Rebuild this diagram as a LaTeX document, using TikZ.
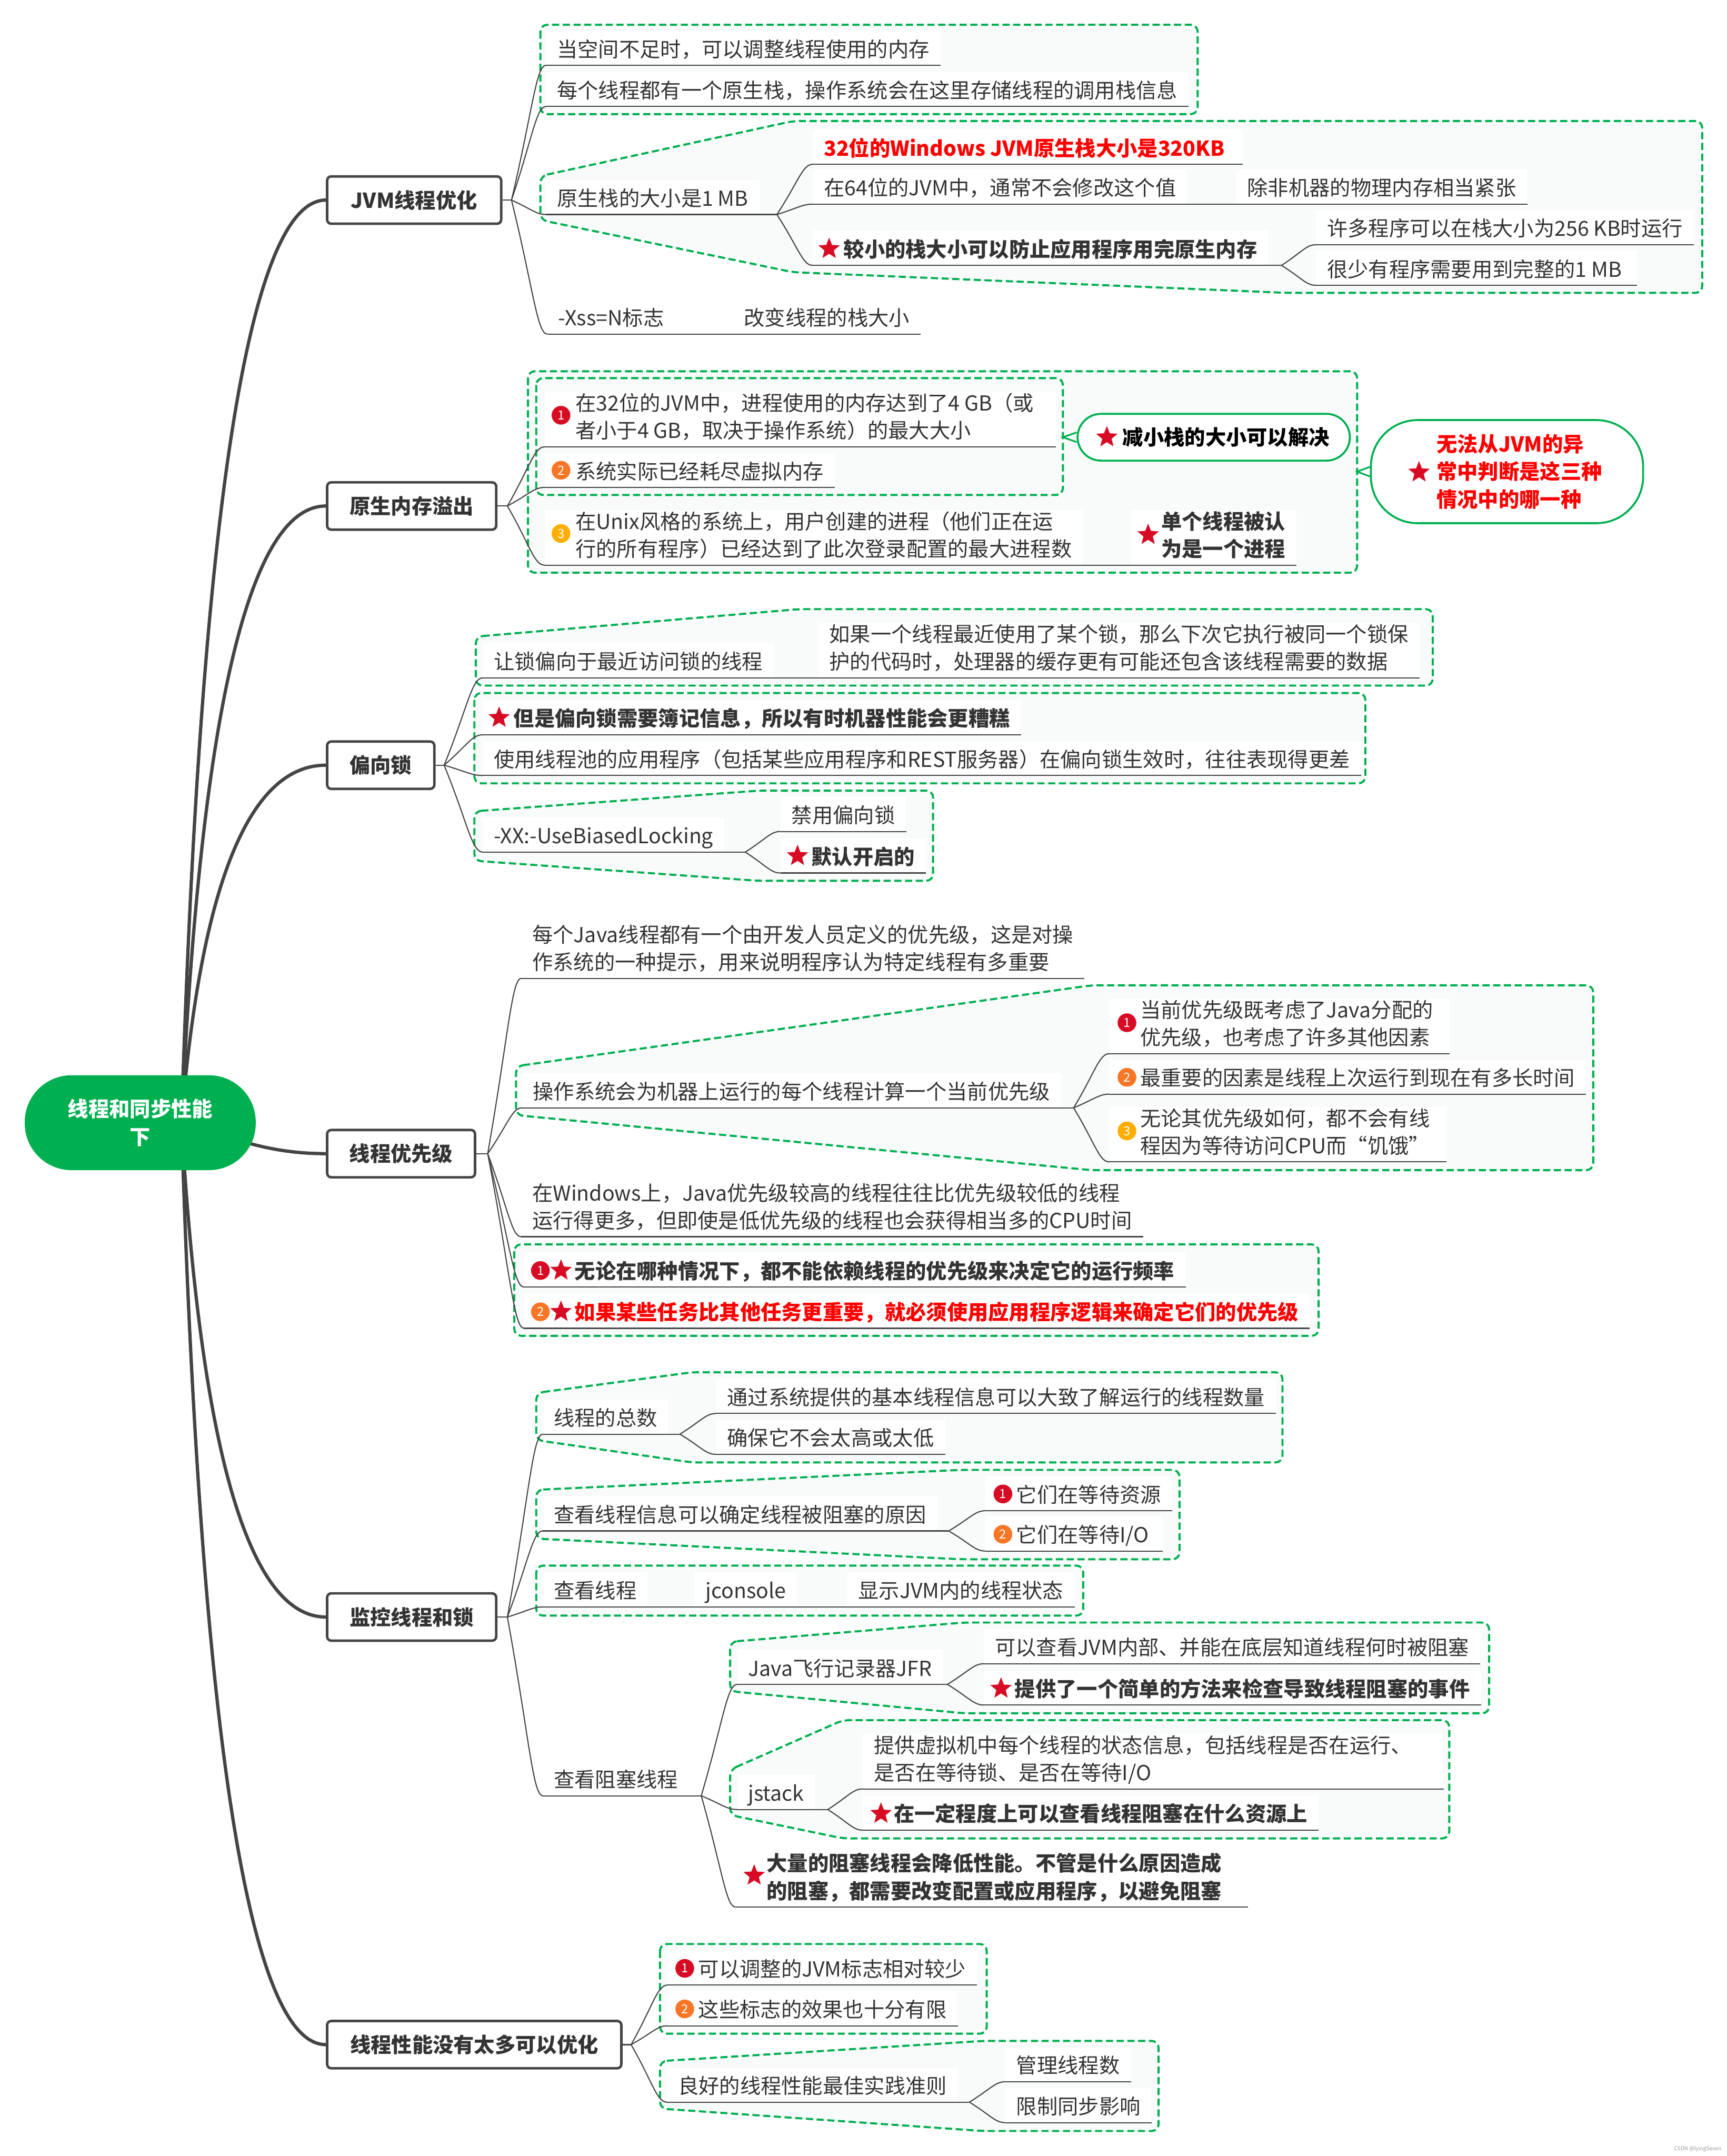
\documentclass[tikz,border=0pt]{standalone}
\usepackage{fontspec}
\setmainfont{Noto Sans CJK SC}
\usetikzlibrary{calc,shapes.geometric}
\definecolor{ink}{HTML}{333333}
\definecolor{stem}{HTML}{444444}
\definecolor{leafgreen}{HTML}{00AF50}
\definecolor{groupfill}{HTML}{F8FBF9}
\definecolor{alert}{HTML}{FF0000}
\definecolor{starred}{HTML}{D80B24}
\definecolor{badgeorange}{HTML}{F97626}
\definecolor{badgeyellow}{HTML}{FFAE00}
\newcommand{\leaffont}{\fontsize{21.4}{28.45}\selectfont}
\newcommand{\hotfont}{\fontsize{21.4}{28.45}\selectfont\bfseries}
\newcommand{\iconpad}{\hspace*{0.72cm}}
\tikzset{
  wire/.style={draw=stem,line width=0.04cm},
  bough/.style={draw=stem,line width=0.12cm},
  twig/.style={to path={let \p1=(\tikztostart),\p2=(\tikztotarget) in .. controls (\x1+0.6*\x2-0.6*\x1,\y1+0.65*\y2-0.65*\y1) and (\x1+0.72*\x2-0.72*\x1,\y2) .. (\x2,\y2)}},
  limb/.style={to path={let \p1=(\tikztostart),\p2=(\tikztotarget) in .. controls (\x1+0.1*\x2-0.1*\x1,\y1+0.5*\y2-0.5*\y1) and (\x1+0.35*\x2-0.35*\x1,\y2) .. (\x2,\y2)}},
  group/.style={draw=leafgreen,fill=groupfill,line width=0.075cm,dash pattern=on 0.26cm off 0.13cm,rounded corners=0.25cm},
  leaf/.style={anchor=south west,fill=white,text=ink,font=\leaffont,align=left,inner xsep=0.4cm,inner ysep=0.05cm,
    execute at begin node={\rule{0pt}{0.9cm}},execute at end node={\rule[-0.25cm]{0pt}{0.25cm}},
    append after command={(\tikzlastnode.south west) edge[wire] (\tikzlastnode.south east)}},
  hotleaf/.style={leaf,font=\hotfont},
  topic/.style={anchor=west,draw=stem,fill=white,text=ink,font=\hotfont,line width=0.09cm,rounded corners=0.15cm,inner sep=0pt,minimum height=1.72cm},
  pill/.style={draw=leafgreen,fill=white,font=\hotfont,line width=0.07cm,inner sep=0pt,align=left,minimum width=9.9cm},
  hotstar/.style={star,star points=5,star point ratio=2.3,fill=starred,inner sep=0pt,minimum size=0.82cm},
  badge/.style={circle,fill=#1,text=white,font=\fontsize{13}{13}\selectfont,inner sep=0pt,minimum size=0.68cm},
  hook/.style={draw=leafgreen,line width=0.06cm}
}
\begin{document}
\begin{tikzpicture}[x=0.05cm,y=-0.05cm]
\useasboundingbox (0,0) rectangle (1256,1568);
\coordinate (hub) at (132,816);
\coordinate (jvmfork) at (372,145.5);
\coordinate (stackfork) at (565,156);
\coordinate (smallfork) at (932,193);
\coordinate (oomfork) at (369,368);
\coordinate (biasfork) at (323,556.5);
\coordinate (flagfork) at (542,619.7);
\coordinate (priofork) at (354.7,839);
\coordinate (currentfork) at (780.8,805.7);
\coordinate (monitorfork) at (369,1176);
\coordinate (totalfork) at (494.5,1043);
\coordinate (reasonfork) at (690,1113.4);
\coordinate (blockedfork) at (510,1306);
\coordinate (jfrfork) at (689,1225);
\coordinate (jstackfork) at (602,1316);
\coordinate (tunedfork) at (459,1487);
\coordinate (practicefork) at (705,1528.8);
\coordinate (oomtip) at (773,318);
\coordinate (outertip) at (987,343);

\draw[group] (393,18) rectangle (871,83);
\draw[group] (393,128) -- (577,88) -- (1238,88) -- (1238,213) -- (936,213) -- (577,198) -- (393,160) -- cycle;
\draw[group] (384,270) rectangle (987,416.5);
\draw[group] (390,275) rectangle (773,360);
\draw[group] (346,463) -- (581,443) -- (1042,443) -- (1042,498.6) -- (346,498.6) -- cycle;
\draw[group] (345,504) rectangle (993,569.7);
\draw[group] (345,590) -- (552,575) -- (678.6,575) -- (678.6,640.6) -- (552,640.6) -- (345,626) -- cycle;
\draw[group] (375.3,775.4) -- (793.6,716.6) -- (1158.7,716.6) -- (1158.7,851) -- (793.6,851) -- (375.3,811) -- cycle;
\draw[group] (374,905) rectangle (959,971.5);
\draw[group] (390,1013) -- (503.4,998) -- (932.7,998) -- (932.7,1063.6) -- (503.4,1063.6) -- (390,1047.4) -- cycle;
\draw[group] (390,1083.5) -- (699,1069) -- (857.8,1069) -- (857.8,1134) -- (699,1134) -- (390,1119) -- cycle;
\draw[group] (390,1138.6) rectangle (787.8,1175);
\draw[group] (531,1194) -- (701,1180) -- (1083,1180) -- (1083,1246) -- (701,1246) -- (531,1230) -- cycle;
\draw[group] (531,1287) -- (613,1251) -- (1054,1251) -- (1054,1337) -- (613,1337) -- (531,1320) -- cycle;
\draw[group] (480,1413.8) rectangle (717.6,1479);
\draw[group] (480,1499) -- (715,1484.3) -- (842.6,1484.3) -- (842.6,1549.8) -- (715,1549.8) -- (480,1533.5) -- cycle;

\node[leaf] (nofit) at (397,47.5) {当空间不足时，可以调整线程使用的内存};
\node[leaf] (ownstack) at (397,77.5) {每个线程都有一个原生栈，操作系统会在这里存储线程的调用栈信息};
\node[leaf] (stacksize) at (397,156) {原生栈的大小是1 MB};
\node[hotleaf,text=alert] (win32) at (591,119.5) {32位的Windows JVM原生栈大小是320KB\hspace*{0.25cm}};
\node[leaf] (jvm64) at (591,148.5) {在64位的JVM中，通常不会修改这个值};
\node[leaf] (tight) at (899,148.5) {除非机器的物理内存相当紧张};
\node[hotleaf] (small) at (591,193) {\iconpad 较小的栈大小可以防止应用程序用完原生内存};
\node[leaf] (many) at (957,178) {许多程序可以在栈大小为256 KB时运行};
\node[leaf] (few) at (957,207.5) {很少有程序需要用到完整的1 MB\hspace*{0.15cm}};
\node[leaf] (xssflag) at (398,243) {-Xss=N标志};
\node[leaf] (xsssize) at (533,243) {改变线程的栈大小};

\node[leaf] (oom32) at (396,325) {\iconpad 在32位的JVM中，进程使用的内存达到了4 GB（或\hspace*{0.4cm}\\\iconpad 者小于4 GB，取决于操作系统）的最大大小};
\node[leaf] (oomvirt) at (396,354.5) {\iconpad 系统实际已经耗尽虚拟内存};
\node[leaf] (oomunix) at (396,411) {\iconpad 在Unix风格的系统上，用户创建的进程（他们正在运\\\iconpad 行的所有程序）已经达到了此次登录配置的最大进程数};
\node[hotleaf] (oomone) at (822,411) {\iconpad 单个线程被认\\\iconpad 为是一个进程};
\node[pill,anchor=west,rounded corners=0.85cm,minimum height=1.7cm,text=black] (shrink) at (783,318) {\hspace*{0.9cm}减小栈的大小可以解决};
\node[pill,rounded corners=1.7cm,minimum height=3.75cm,text=alert] (unknown) at (1096,343) {\hspace*{0.9cm}无法从JVM的异\\\hspace*{0.9cm}常中判断是这三种\\\hspace*{0.9cm}情况中的哪一种};

\node[leaf] (biasrecent) at (351,493) {让锁偏向于最近访问锁的线程};
\node[leaf] (biascache) at (595,493) {如果一个线程最近使用了某个锁，那么下次它执行被同一个锁保\\护的代码时，处理器的缓存更有可能还包含该线程需要的数据};
\node[hotleaf] (biascost) at (351,534.4) {\iconpad 但是偏向锁需要簿记信息，所以有时机器性能会更糟糕};
\node[leaf] (biaspool) at (351,564) {使用线程池的应用程序（包括某些应用程序和REST服务器）在偏向锁生效时，往往表现得更差};
\node[leaf] (biasflag) at (351,619.7) {-XX:-UseBiasedLocking};
\node[leaf] (biasoff) at (567.6,604.7) {禁用偏向锁};
\node[hotleaf] (biason) at (567.6,634.9) {\iconpad 默认开启的};

\node[leaf] (javaprio) at (379,711.5) {每个Java线程都有一个由开发人员定义的优先级，这是对操\\作系统的一种提示，用来说明程序认为特定线程有多重要};
\node[leaf] (current) at (379.5,805.7) {操作系统会为机器上运行的每个线程计算一个当前优先级};
\node[leaf] (curjava) at (806.7,766.3) {\iconpad 当前优先级既考虑了Java分配的\hspace*{0.2cm}\\\iconpad 优先级，也考虑了许多其他因素};
\node[leaf] (curlast) at (806.7,795.7) {\iconpad 最重要的因素是线程上次运行到现在有多长时间};
\node[leaf] (curhungry) at (806.7,845) {\iconpad 无论其优先级如何，都不会有线\\\iconpad 程因为等待访问CPU而“饥饿”\hspace*{0.2cm}};
\node[leaf] (windows) at (379,899.4) {在Windows上，Java优先级较高的线程往往比优先级较低的线程\\运行得更多，但即使是低优先级的线程也会获得相当多的CPU时间};
\node[hotleaf] (nofreq) at (381,936) {\iconpad\iconpad 无论在哪种情况下，都不能依赖线程的优先级来决定它的运行频率};
\node[hotleaf,text=alert] (logic) at (381,966) {\iconpad\iconpad 如果某些任务比其他任务更重要，就必须使用应用程序逻辑来确定它们的优先级};

\node[leaf] (total) at (394.7,1043) {线程的总数};
\node[leaf] (totalinfo) at (520.7,1028) {通过系统提供的基本线程信息可以大致了解运行的线程数量};
\node[leaf] (totalsane) at (520.7,1057.7) {确保它不会太高或太低};
\node[leaf] (reason) at (394.7,1113.4) {查看线程信息可以确定线程被阻塞的原因};
\node[leaf] (waitres) at (716.6,1098.7) {\iconpad 它们在等待资源};
\node[leaf] (waitio) at (716.6,1128) {\iconpad 它们在等待I/O\hspace*{0.1cm}};
\node[leaf] (viewthread) at (394.7,1168.7) {查看线程};
\node[leaf] (jconsole) at (505,1168.7) {jconsole};
\node[leaf] (jvmstate) at (616,1168.7) {显示JVM内的线程状态};
\node[leaf] (blocked) at (394.7,1306) {查看阻塞线程};
\node[leaf] (jfr) at (536,1225) {Java飞行记录器JFR};
\node[leaf] (jfrlook) at (715.5,1210) {可以查看JVM内部、并能在底层知道线程何时被阻塞};
\node[hotleaf] (jfrevent) at (715.5,1240) {\iconpad 提供了一个简单的方法来检查导致线程阻塞的事件};
\node[leaf] (jstack) at (536,1316) {jstack};
\node[leaf] (jstackstate) at (627.5,1301) {提供虚拟机中每个线程的状态信息，包括线程是否在运行、\hspace*{0.75cm}\\是否在等待锁、是否在等待I/O};
\node[hotleaf] (jstackwhat) at (627.5,1331) {\iconpad 在一定程度上可以查看线程阻塞在什么资源上};
\node[hotleaf] (bulk) at (535,1387) {\iconpad 大量的阻塞线程会降低性能。不管是什么原因造成\hspace*{0.55cm}\\\iconpad 的阻塞，都需要改变配置或应用程序，以避免阻塞};

\node[leaf] (fewflags) at (485.4,1443.7) {\iconpad 可以调整的JVM标志相对较少};
\node[leaf] (limited) at (485.4,1473.3) {\iconpad 这些标志的效果也十分有限};
\node[leaf] (practice) at (485,1528.8) {良好的线程性能最佳实践准则};
\node[leaf] (manage) at (731,1514) {管理线程数};
\node[leaf] (limitsync) at (731,1543.7) {限制同步影响};

\node[topic,minimum width=6.33cm] (jvm) at (237,145.5) {JVM线程优化};
\node[topic,minimum width=6.15cm] (oom) at (237,368) {原生内存溢出};
\node[topic,minimum width=3.9cm] (bias) at (237,556.5) {偏向锁};
\node[topic,minimum width=5.38cm] (prio) at (237,839) {线程优先级};
\node[topic,minimum width=6.15cm] (monitor) at (237,1176) {监控线程和锁};
\node[topic,minimum width=10.7cm] (tuned) at (237,1487) {线程性能没有太多可以优化};

\draw[bough] (hub) to[limb] (jvm.west);
\draw[bough] (hub) to[limb] (oom.west);
\draw[bough] (hub) to[limb] (bias.west);
\draw[bough] (hub) .. controls (170,828) and (195,839) .. (prio.west);
\draw[bough] (hub) to[limb] (monitor.west);
\draw[bough] (hub) to[limb] (tuned.west);
\node[draw=none,fill=leafgreen,text=white,font=\hotfont,align=center,rounded corners=1.7cm,minimum width=8.4cm,minimum height=3.45cm,inner sep=0pt] (root) at (102,816.5) {线程和同步性能\\下};

\draw[wire] (jvm.east) -- (jvmfork);
\draw[wire] (jvmfork) to[twig] (nofit.south west);
\draw[wire] (jvmfork) to[twig] (ownstack.south west);
\draw[wire] (jvmfork) to[twig] (stacksize.south west);
\draw[wire] (jvmfork) to[twig] (xssflag.south west);
\draw[wire] (stacksize.south east) -- (stackfork);
\draw[wire] (stackfork) to[twig] (win32.south west);
\draw[wire] (stackfork) to[twig] (jvm64.south west);
\draw[wire] (stackfork) to[twig] (small.south west);
\draw[wire] (jvm64.south east) -- (tight.south west);
\draw[wire] (small.south east) -- (smallfork);
\draw[wire] (smallfork) to[twig] (many.south west);
\draw[wire] (smallfork) to[twig] (few.south west);
\draw[wire] (xssflag.south east) -- (xsssize.south west);

\draw[wire] (oom.east) -- (oomfork);
\draw[wire] (oomfork) to[twig] (oom32.south west);
\draw[wire] (oomfork) to[twig] (oomvirt.south west);
\draw[wire] (oomfork) to[twig] (oomunix.south west);
\draw[wire] (oomunix.south east) -- (oomone.south west);
\draw[hook] ($(shrink.west)+(0,-3.5)$) -- (oomtip) -- ($(shrink.west)+(0,3.5)$);
\draw[hook] ($(unknown.west)+(0,-3.5)$) -- (outertip) -- ($(unknown.west)+(0,3.5)$);

\draw[wire] (bias.east) -- (biasfork);
\draw[wire] (biasfork) to[twig] (biasrecent.south west);
\draw[wire] (biasfork) to[twig] (biascost.south west);
\draw[wire] (biasfork) to[twig] (biaspool.south west);
\draw[wire] (biasfork) to[twig] (biasflag.south west);
\draw[wire] (biasrecent.south east) -- (biascache.south west);
\draw[wire] (biasflag.south east) -- (flagfork);
\draw[wire] (flagfork) to[twig] (biasoff.south west);
\draw[wire] (flagfork) to[twig] (biason.south west);

\draw[wire] (prio.east) -- (priofork);
\draw[wire] (priofork) to[twig] (javaprio.south west);
\draw[wire] (priofork) to[twig] (current.south west);
\draw[wire] (priofork) to[twig] (windows.south west);
\draw[wire] (priofork) to[twig] (nofreq.south west);
\draw[wire] (priofork) to[twig] (logic.south west);
\draw[wire] (current.south east) -- (currentfork);
\draw[wire] (currentfork) to[twig] (curjava.south west);
\draw[wire] (currentfork) to[twig] (curlast.south west);
\draw[wire] (currentfork) to[twig] (curhungry.south west);

\draw[wire] (monitor.east) -- (monitorfork);
\draw[wire] (monitorfork) to[twig] (total.south west);
\draw[wire] (monitorfork) to[twig] (reason.south west);
\draw[wire] (monitorfork) to[twig] (viewthread.south west);
\draw[wire] (monitorfork) to[twig] (blocked.south west);
\draw[wire] (total.south east) -- (totalfork);
\draw[wire] (totalfork) to[twig] (totalinfo.south west);
\draw[wire] (totalfork) to[twig] (totalsane.south west);
\draw[wire] (reason.south east) -- (reasonfork);
\draw[wire] (reasonfork) to[twig] (waitres.south west);
\draw[wire] (reasonfork) to[twig] (waitio.south west);
\draw[wire] (viewthread.south east) -- (jconsole.south west);
\draw[wire] (jconsole.south east) -- (jvmstate.south west);
\draw[wire] (blocked.south east) -- (blockedfork);
\draw[wire] (blockedfork) to[twig] (jfr.south west);
\draw[wire] (blockedfork) to[twig] (jstack.south west);
\draw[wire] (blockedfork) to[twig] (bulk.south west);
\draw[wire] (jfr.south east) -- (jfrfork);
\draw[wire] (jfrfork) to[twig] (jfrlook.south west);
\draw[wire] (jfrfork) to[twig] (jfrevent.south west);
\draw[wire] (jstack.south east) -- (jstackfork);
\draw[wire] (jstackfork) to[twig] (jstackstate.south west);
\draw[wire] (jstackfork) to[twig] (jstackwhat.south west);

\draw[wire] (tuned.east) -- (tunedfork);
\draw[wire] (tunedfork) to[twig] (fewflags.south west);
\draw[wire] (tunedfork) to[twig] (limited.south west);
\draw[wire] (tunedfork) to[twig] (practice.south west);
\draw[wire] (practice.south east) -- (practicefork);
\draw[wire] (practicefork) to[twig] (manage.south west);
\draw[wire] (practicefork) to[twig] (limitsync.south west);

\node[hotstar] (smallstar) at (603,181) {};
\node[hotstar] (shrinkstar) at (805,318) {};
\node[hotstar] (unknownstar) at (1032,343.5) {};
\node[hotstar] (oomstar) at (835,389) {};
\node[hotstar] (coststar) at (363,522) {};
\node[hotstar] (onstar) at (580,622.5) {};
\node[hotstar] (freqstar) at (408,924) {};
\node[hotstar] (logicstar) at (408,954) {};
\node[hotstar] (eventstar) at (728,1228) {};
\node[hotstar] (whatstar) at (640.7,1319) {};
\node[hotstar] (bulkstar) at (548.5,1364) {};

\node[badge=starred] (oomone1) at (408,302) {1};
\node[badge=badgeorange] (oomtwo2) at (408,342) {2};
\node[badge=badgeyellow] (oomthree3) at (408,388) {3};
\node[badge=starred] (curone1) at (819.6,743.8) {1};
\node[badge=badgeorange] (curtwo2) at (819.6,783.5) {2};
\node[badge=badgeyellow] (curthree3) at (819.6,822.5) {3};
\node[badge=starred] (freqone1) at (393,924) {1};
\node[badge=badgeorange] (logictwo2) at (393,954) {2};
\node[badge=starred] (waitone1) at (729.4,1086.5) {1};
\node[badge=badgeorange] (waittwo2) at (729.4,1115.8) {2};
\node[badge=starred] (flagone1) at (498,1431.5) {1};
\node[badge=badgeorange] (flagtwo2) at (498,1461) {2};

\node[anchor=south east,text=black!40,font=\fontsize{5.5}{6}\selectfont,inner sep=0pt] (credit) at (1252,1565) {CSDN @lyingSeven};
\end{tikzpicture}
\end{document}
